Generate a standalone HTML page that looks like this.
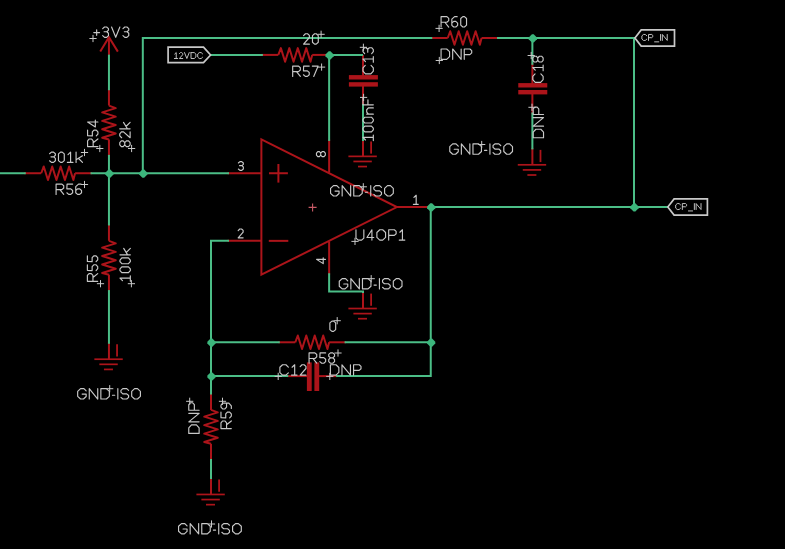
<!DOCTYPE html>
<html><head><meta charset="utf-8"><style>
html,body{margin:0;padding:0;background:#000;width:785px;height:549px;overflow:hidden;font-family:"Liberation Sans",sans-serif;}
svg{display:block;}
</style></head><body>
<svg width="785" height="549" viewBox="0 0 785 549">
<rect width="785" height="549" fill="#000"/>
<line x1="24.28" y1="173.24" x2="41.21" y2="173.24" stroke="#ac141a" stroke-width="2" stroke-linecap="butt"/>
<line x1="75.07" y1="173.24" x2="92.00" y2="173.24" stroke="#ac141a" stroke-width="2" stroke-linecap="butt"/>
<path d="M41.21,173.24 L43.75,166.47 L47.98,180.01 L52.21,166.47 L56.45,180.01 L60.68,166.47 L64.91,180.01 L69.14,166.47 L73.38,180.01 L75.07,173.24" stroke="#ac141a" stroke-width="2" fill="none" stroke-linejoin="round"/>
<line x1="108.95" y1="88.67" x2="108.95" y2="105.59" stroke="#ac141a" stroke-width="2" stroke-linecap="butt"/>
<line x1="108.95" y1="139.46" x2="108.95" y2="156.38" stroke="#ac141a" stroke-width="2" stroke-linecap="butt"/>
<path d="M108.95,105.59 L115.72,108.13 L102.18,112.37 L115.72,116.60 L102.18,120.83 L115.72,125.06 L102.18,129.30 L115.72,133.53 L102.18,137.76 L108.95,139.46" stroke="#ac141a" stroke-width="2" fill="none" stroke-linejoin="round"/>
<line x1="108.95" y1="223.90" x2="108.95" y2="240.83" stroke="#ac141a" stroke-width="2" stroke-linecap="butt"/>
<line x1="108.95" y1="274.69" x2="108.95" y2="291.62" stroke="#ac141a" stroke-width="2" stroke-linecap="butt"/>
<path d="M108.95,240.83 L115.72,243.37 L102.18,247.61 L115.72,251.84 L102.18,256.07 L115.72,260.30 L102.18,264.54 L115.72,268.77 L102.18,273.00 L108.95,274.69" stroke="#ac141a" stroke-width="2" fill="none" stroke-linejoin="round"/>
<line x1="261.40" y1="54.91" x2="278.33" y2="54.91" stroke="#ac141a" stroke-width="2" stroke-linecap="butt"/>
<line x1="312.19" y1="54.91" x2="329.12" y2="54.91" stroke="#ac141a" stroke-width="2" stroke-linecap="butt"/>
<path d="M278.33,54.91 L280.87,48.13 L285.10,61.68 L289.33,48.13 L293.56,61.68 L297.80,48.13 L302.03,61.68 L306.26,48.13 L310.49,61.68 L312.19,54.91" stroke="#ac141a" stroke-width="2" fill="none" stroke-linejoin="round"/>
<line x1="430.77" y1="38.00" x2="447.70" y2="38.00" stroke="#ac141a" stroke-width="2" stroke-linecap="butt"/>
<line x1="481.56" y1="38.00" x2="498.49" y2="38.00" stroke="#ac141a" stroke-width="2" stroke-linecap="butt"/>
<path d="M447.70,38.00 L450.24,31.23 L454.47,44.77 L458.70,31.23 L462.93,44.77 L467.17,31.23 L471.40,44.77 L475.63,31.23 L479.86,44.77 L481.56,38.00" stroke="#ac141a" stroke-width="2" fill="none" stroke-linejoin="round"/>
<line x1="278.33" y1="342.29" x2="295.26" y2="342.29" stroke="#ac141a" stroke-width="2" stroke-linecap="butt"/>
<line x1="329.12" y1="342.29" x2="346.05" y2="342.29" stroke="#ac141a" stroke-width="2" stroke-linecap="butt"/>
<path d="M295.26,342.29 L297.80,335.52 L302.04,349.06 L306.27,335.52 L310.50,349.06 L314.73,335.52 L318.97,349.06 L323.20,335.52 L327.43,349.06 L329.12,342.29" stroke="#ac141a" stroke-width="2" fill="none" stroke-linejoin="round"/>
<line x1="211.00" y1="392.96" x2="211.00" y2="409.89" stroke="#ac141a" stroke-width="2" stroke-linecap="butt"/>
<line x1="211.00" y1="443.75" x2="211.00" y2="460.68" stroke="#ac141a" stroke-width="2" stroke-linecap="butt"/>
<path d="M211.00,409.89 L217.77,412.42 L204.23,416.66 L217.77,420.89 L204.23,425.12 L217.77,429.35 L204.23,433.59 L217.77,437.82 L204.23,442.05 L211.00,443.75" stroke="#ac141a" stroke-width="2" fill="none" stroke-linejoin="round"/>
<line x1="108.95" y1="37.00" x2="108.95" y2="54.91" stroke="#ac141a" stroke-width="2" stroke-linecap="butt"/>
<path d="M100.25,51.60 L108.95,37.20 L117.85,51.60" stroke="#ac141a" stroke-width="2" fill="none" stroke-linejoin="miter"/>
<line x1="363.00" y1="54.91" x2="363.00" y2="77.30" stroke="#ac141a" stroke-width="2" stroke-linecap="butt"/>
<line x1="363.00" y1="84.40" x2="363.00" y2="105.62" stroke="#ac141a" stroke-width="2" stroke-linecap="butt"/>
<rect x="348.90" y="75.10" width="29.00" height="4.40" fill="#ac141a"/>
<rect x="348.90" y="82.20" width="29.00" height="4.40" fill="#ac141a"/>
<line x1="532.38" y1="63.30" x2="532.38" y2="85.30" stroke="#ac141a" stroke-width="2" stroke-linecap="butt"/>
<line x1="532.38" y1="92.20" x2="532.38" y2="114.00" stroke="#ac141a" stroke-width="2" stroke-linecap="butt"/>
<rect x="518.27" y="83.10" width="29.00" height="4.40" fill="#ac141a"/>
<rect x="518.27" y="90.00" width="29.00" height="4.40" fill="#ac141a"/>
<line x1="286.79" y1="376.10" x2="309.30" y2="376.10" stroke="#ac141a" stroke-width="2" stroke-linecap="butt"/>
<line x1="316.80" y1="376.10" x2="337.60" y2="376.10" stroke="#ac141a" stroke-width="2" stroke-linecap="butt"/>
<rect x="306.90" y="362.40" width="4.80" height="28.60" fill="#ac141a"/>
<rect x="314.40" y="362.40" width="4.80" height="28.60" fill="#ac141a"/>
<line x1="108.95" y1="342.29" x2="108.95" y2="359.22" stroke="#ac141a" stroke-width="2" stroke-linecap="butt"/>
<line x1="94.35" y1="359.22" x2="122.75" y2="359.22" stroke="#ac141a" stroke-width="1.7" stroke-linecap="butt"/>
<line x1="99.35" y1="364.32" x2="117.75" y2="364.32" stroke="#ac141a" stroke-width="1.7" stroke-linecap="butt"/>
<line x1="103.95" y1="369.42" x2="112.95" y2="369.42" stroke="#ac141a" stroke-width="1.7" stroke-linecap="butt"/>
<line x1="117.05" y1="344.29" x2="117.05" y2="356.49" stroke="#ac141a" stroke-width="1.8" stroke-linecap="butt"/>
<line x1="363.00" y1="139.43" x2="363.00" y2="156.36" stroke="#ac141a" stroke-width="2" stroke-linecap="butt"/>
<line x1="348.40" y1="156.36" x2="376.81" y2="156.36" stroke="#ac141a" stroke-width="1.7" stroke-linecap="butt"/>
<line x1="353.40" y1="161.46" x2="371.81" y2="161.46" stroke="#ac141a" stroke-width="1.7" stroke-linecap="butt"/>
<line x1="358.00" y1="166.56" x2="367.00" y2="166.56" stroke="#ac141a" stroke-width="1.7" stroke-linecap="butt"/>
<line x1="371.11" y1="141.43" x2="371.11" y2="153.63" stroke="#ac141a" stroke-width="1.8" stroke-linecap="butt"/>
<line x1="532.38" y1="147.88" x2="532.38" y2="164.81" stroke="#ac141a" stroke-width="2" stroke-linecap="butt"/>
<line x1="517.77" y1="164.81" x2="546.17" y2="164.81" stroke="#ac141a" stroke-width="1.7" stroke-linecap="butt"/>
<line x1="522.77" y1="169.91" x2="541.17" y2="169.91" stroke="#ac141a" stroke-width="1.7" stroke-linecap="butt"/>
<line x1="527.38" y1="175.01" x2="536.38" y2="175.01" stroke="#ac141a" stroke-width="1.7" stroke-linecap="butt"/>
<line x1="540.48" y1="149.88" x2="540.48" y2="162.08" stroke="#ac141a" stroke-width="1.8" stroke-linecap="butt"/>
<line x1="363.00" y1="291.58" x2="363.00" y2="308.51" stroke="#ac141a" stroke-width="2" stroke-linecap="butt"/>
<line x1="348.40" y1="308.51" x2="376.81" y2="308.51" stroke="#ac141a" stroke-width="1.7" stroke-linecap="butt"/>
<line x1="353.40" y1="313.61" x2="371.81" y2="313.61" stroke="#ac141a" stroke-width="1.7" stroke-linecap="butt"/>
<line x1="358.00" y1="318.71" x2="367.00" y2="318.71" stroke="#ac141a" stroke-width="1.7" stroke-linecap="butt"/>
<line x1="371.11" y1="293.58" x2="371.11" y2="305.78" stroke="#ac141a" stroke-width="1.8" stroke-linecap="butt"/>
<line x1="211.00" y1="477.53" x2="211.00" y2="494.46" stroke="#ac141a" stroke-width="2" stroke-linecap="butt"/>
<line x1="196.40" y1="494.46" x2="224.80" y2="494.46" stroke="#ac141a" stroke-width="1.7" stroke-linecap="butt"/>
<line x1="201.40" y1="499.56" x2="219.80" y2="499.56" stroke="#ac141a" stroke-width="1.7" stroke-linecap="butt"/>
<line x1="206.00" y1="504.66" x2="215.00" y2="504.66" stroke="#ac141a" stroke-width="1.7" stroke-linecap="butt"/>
<line x1="219.10" y1="479.53" x2="219.10" y2="491.73" stroke="#ac141a" stroke-width="1.8" stroke-linecap="butt"/>
<path d="M261.38,139.43 L396.88,207.05 L261.38,274.67 Z" stroke="#ac141a" stroke-width="2" fill="none" stroke-linejoin="miter"/>
<line x1="227.51" y1="173.24" x2="261.38" y2="173.24" stroke="#ac141a" stroke-width="2" stroke-linecap="butt"/>
<line x1="227.51" y1="240.86" x2="261.38" y2="240.86" stroke="#ac141a" stroke-width="2" stroke-linecap="butt"/>
<line x1="396.88" y1="207.05" x2="430.75" y2="207.05" stroke="#ac141a" stroke-width="2" stroke-linecap="butt"/>
<line x1="329.13" y1="139.43" x2="329.13" y2="172.74" stroke="#ac141a" stroke-width="2" stroke-linecap="butt"/>
<line x1="329.13" y1="274.67" x2="329.13" y2="241.36" stroke="#ac141a" stroke-width="2" stroke-linecap="butt"/>
<line x1="269.00" y1="173.24" x2="287.90" y2="173.24" stroke="#ac141a" stroke-width="2" stroke-linecap="butt"/>
<line x1="278.40" y1="164.00" x2="278.40" y2="182.60" stroke="#ac141a" stroke-width="2" stroke-linecap="butt"/>
<line x1="268.80" y1="240.86" x2="288.30" y2="240.86" stroke="#ac141a" stroke-width="2" stroke-linecap="butt"/>
<path d="M308.60,207.40 L316.60,207.40 M312.60,203.40 L312.60,211.40" stroke="#c85a66" stroke-width="1.1" fill="none"/>
<path d="M0.00,173.24 L25.77,173.24" stroke="#4bbe87" stroke-width="2" fill="none" stroke-linejoin="miter"/>
<path d="M90.51,173.24 L229.01,173.24" stroke="#4bbe87" stroke-width="2" fill="none" stroke-linejoin="miter"/>
<path d="M108.95,54.61 L108.95,90.22" stroke="#4bbe87" stroke-width="2" fill="none" stroke-linejoin="miter"/>
<path d="M108.95,154.84 L108.95,225.46" stroke="#4bbe87" stroke-width="2" fill="none" stroke-linejoin="miter"/>
<path d="M108.95,290.08 L108.95,343.79" stroke="#4bbe87" stroke-width="2" fill="none" stroke-linejoin="miter"/>
<path d="M142.82,173.24 L142.82,38.00 L432.25,38.00" stroke="#4bbe87" stroke-width="2" fill="none" stroke-linejoin="miter"/>
<path d="M497.00,38.00 L634.90,38.00" stroke="#4bbe87" stroke-width="2" fill="none" stroke-linejoin="miter"/>
<path d="M210.50,54.91 L262.88,54.91" stroke="#4bbe87" stroke-width="2" fill="none" stroke-linejoin="miter"/>
<path d="M327.63,54.91 L363.00,54.91" stroke="#4bbe87" stroke-width="2" fill="none" stroke-linejoin="miter"/>
<path d="M329.13,54.91 L329.13,140.93" stroke="#4bbe87" stroke-width="2" fill="none" stroke-linejoin="miter"/>
<path d="M363.00,104.12 L363.00,140.93" stroke="#4bbe87" stroke-width="2" fill="none" stroke-linejoin="miter"/>
<path d="M532.38,38.00 L532.38,64.80" stroke="#4bbe87" stroke-width="2" fill="none" stroke-linejoin="miter"/>
<path d="M532.38,112.50 L532.38,149.38" stroke="#4bbe87" stroke-width="2" fill="none" stroke-linejoin="miter"/>
<path d="M634.00,37.00 L634.00,207.05" stroke="#4bbe87" stroke-width="2" fill="none" stroke-linejoin="miter"/>
<path d="M429.25,207.05 L667.87,207.05" stroke="#4bbe87" stroke-width="2" fill="none" stroke-linejoin="miter"/>
<path d="M430.75,207.05 L430.75,376.10 L336.10,376.10" stroke="#4bbe87" stroke-width="2" fill="none" stroke-linejoin="miter"/>
<path d="M344.57,342.29 L430.75,342.29" stroke="#4bbe87" stroke-width="2" fill="none" stroke-linejoin="miter"/>
<path d="M229.01,240.86 L211.00,240.86 L211.00,394.50" stroke="#4bbe87" stroke-width="2" fill="none" stroke-linejoin="miter"/>
<path d="M211.00,342.29 L279.82,342.29" stroke="#4bbe87" stroke-width="2" fill="none" stroke-linejoin="miter"/>
<path d="M211.00,376.10 L288.29,376.10" stroke="#4bbe87" stroke-width="2" fill="none" stroke-linejoin="miter"/>
<path d="M211.00,459.12 L211.00,479.03" stroke="#4bbe87" stroke-width="2" fill="none" stroke-linejoin="miter"/>
<path d="M329.13,273.17 L329.13,291.58 L363.00,291.58 L363.00,293.08" stroke="#4bbe87" stroke-width="2" fill="none" stroke-linejoin="miter"/>
<path d="M113.50,172.74 L113.50,174.54 L110.30,177.74 L108.50,177.74 L105.30,174.54 L105.30,172.74 L108.50,169.54 L110.30,169.54 Z" stroke="#3cb67c" stroke-width="0" fill="#3cb67c" stroke-linejoin="miter"/>
<path d="M147.37,172.74 L147.37,174.54 L144.17,177.74 L142.37,177.74 L139.17,174.54 L139.17,172.74 L142.37,169.54 L144.17,169.54 Z" stroke="#3cb67c" stroke-width="0" fill="#3cb67c" stroke-linejoin="miter"/>
<path d="M333.68,54.41 L333.68,56.20 L330.48,59.41 L328.68,59.41 L325.48,56.20 L325.48,54.41 L328.68,51.20 L330.48,51.20 Z" stroke="#3cb67c" stroke-width="0" fill="#3cb67c" stroke-linejoin="miter"/>
<path d="M536.93,37.50 L536.93,39.30 L533.73,42.50 L531.93,42.50 L528.73,39.30 L528.73,37.50 L531.93,34.30 L533.73,34.30 Z" stroke="#3cb67c" stroke-width="0" fill="#3cb67c" stroke-linejoin="miter"/>
<path d="M638.55,206.55 L638.55,208.35 L635.35,211.55 L633.55,211.55 L630.35,208.35 L630.35,206.55 L633.55,203.35 L635.35,203.35 Z" stroke="#3cb67c" stroke-width="0" fill="#3cb67c" stroke-linejoin="miter"/>
<path d="M435.30,206.55 L435.30,208.35 L432.10,211.55 L430.30,211.55 L427.10,208.35 L427.10,206.55 L430.30,203.35 L432.10,203.35 Z" stroke="#3cb67c" stroke-width="0" fill="#3cb67c" stroke-linejoin="miter"/>
<path d="M435.30,341.79 L435.30,343.59 L432.10,346.79 L430.30,346.79 L427.10,343.59 L427.10,341.79 L430.30,338.59 L432.10,338.59 Z" stroke="#3cb67c" stroke-width="0" fill="#3cb67c" stroke-linejoin="miter"/>
<path d="M215.55,341.79 L215.55,343.59 L212.35,346.79 L210.55,346.79 L207.35,343.59 L207.35,341.79 L210.55,338.59 L212.35,338.59 Z" stroke="#3cb67c" stroke-width="0" fill="#3cb67c" stroke-linejoin="miter"/>
<path d="M215.55,375.60 L215.55,377.40 L212.35,380.60 L210.55,380.60 L207.35,377.40 L207.35,375.60 L210.55,372.40 L212.35,372.40 Z" stroke="#3cb67c" stroke-width="0" fill="#3cb67c" stroke-linejoin="miter"/>
<path d="M168.10,47.10 L203.50,47.10 L210.60,55.00 L203.50,62.70 L168.10,62.70 Z" stroke="#c8c8c8" stroke-width="1.7" fill="none" stroke-linejoin="miter"/>
<path d="M634.90,38.00 L641.20,29.90 L674.50,29.90 L674.50,46.10 L641.20,46.10 Z" stroke="#c8c8c8" stroke-width="1.7" fill="none" stroke-linejoin="miter"/>
<path d="M667.80,207.00 L674.10,198.90 L707.40,198.90 L707.40,215.10 L674.10,215.10 Z" stroke="#c8c8c8" stroke-width="1.7" fill="none" stroke-linejoin="miter"/>
<path d="M93.78,32.56 L99.57,32.56 M96.67,29.77 L96.67,35.36 M102.68,28.63 L104.53,26.97 L106.62,26.97 L108.47,28.63 L108.47,30.18 L106.85,31.74 L104.07,31.74 M106.85,31.74 L108.47,33.29 L108.47,35.67 L106.62,37.32 L104.53,37.32 L102.68,35.67 M111.58,26.97 L115.72,37.32 L119.86,26.97 M122.96,28.63 L124.82,26.97 L126.90,26.97 L128.76,28.63 L128.76,30.18 L127.14,31.74 L124.35,31.74 M127.14,31.74 L128.76,33.29 L128.76,35.67 L126.90,37.32 L124.82,37.32 L122.96,35.67" stroke="#c8c8c8" stroke-width="1.15" fill="none" stroke-linejoin="round" stroke-linecap="round"/>
<path d="M89.40,38.50 L96.60,38.50 M93.00,34.90 L93.00,42.10" stroke="#c8c8c8" stroke-width="1.0" fill="none"/>
<path d="M49.58,153.73 L51.43,152.07 L53.52,152.07 L55.37,153.73 L55.37,155.28 L53.75,156.84 L50.97,156.84 M53.75,156.84 L55.37,158.39 L55.37,160.77 L53.52,162.42 L51.43,162.42 L49.58,160.77 M60.56,152.07 L62.19,152.07 L64.27,153.94 L64.27,160.56 L62.19,162.42 L60.56,162.42 L58.48,160.56 L58.48,153.94 L60.56,152.07 M68.00,154.56 L70.59,152.07 L70.59,162.42 M67.38,162.42 L72.97,162.42 M76.07,152.07 L76.07,162.42 M82.49,155.80 L76.07,159.73 M78.36,158.28 L82.49,162.42" stroke="#c8c8c8" stroke-width="1.15" fill="none" stroke-linejoin="round" stroke-linecap="round"/>
<path d="M80.90,152.50 L88.10,152.50 M84.50,148.90 L84.50,156.10" stroke="#c8c8c8" stroke-width="1.0" fill="none"/>
<path d="M56.08,194.42 L56.08,184.07 L61.93,184.07 L63.73,185.73 L63.73,188.01 L61.93,189.66 L56.08,189.66 M59.90,189.66 L63.73,194.42 M72.64,184.07 L67.07,184.07 L66.84,188.84 L70.78,188.84 L72.64,190.49 L72.64,192.77 L70.78,194.42 L68.69,194.42 L66.84,192.77 M81.07,184.07 L78.52,184.07 L75.74,186.56 L75.74,192.77 L77.59,194.42 L79.68,194.42 L81.54,192.77 L81.54,190.49 L79.68,188.84 L77.59,188.84 L75.74,190.49" stroke="#c8c8c8" stroke-width="1.15" fill="none" stroke-linejoin="round" stroke-linecap="round"/>
<path d="M80.90,184.50 L88.10,184.50 M84.50,180.90 L84.50,188.10" stroke="#c8c8c8" stroke-width="1.0" fill="none"/>
<path d="M86.16,390.95 L83.93,388.68 L80.58,388.68 L77.67,391.37 L77.67,396.33 L80.58,399.03 L83.48,399.03 L86.16,396.54 L86.16,394.06 L82.14,394.06 M89.27,399.03 L89.27,388.68 L97.75,399.03 L97.75,388.68 M100.86,388.68 L100.86,399.03 L106.44,399.03 L109.35,396.33 L109.35,391.37 L106.44,388.68 L100.86,388.68 M112.45,395.20 L114.73,395.20 M117.83,388.68 L117.83,399.03 M128.60,390.33 L126.74,388.68 L122.79,388.68 L120.94,390.33 L120.94,392.19 L122.79,393.85 L126.74,393.85 L128.60,395.51 L128.60,397.37 L126.74,399.03 L122.79,399.03 L120.94,397.37 M134.60,388.68 L137.50,388.68 L140.40,391.37 L140.40,396.33 L137.50,399.03 L134.60,399.03 L131.70,396.33 L131.70,391.37 L134.60,388.68" stroke="#c8c8c8" stroke-width="1.15" fill="none" stroke-linejoin="round" stroke-linecap="round"/>
<path d="M106.10,388.70 L113.30,388.70 M109.70,385.10 L109.70,392.30" stroke="#c8c8c8" stroke-width="1.0" fill="none"/>
<path d="M458.26,146.15 L456.03,143.88 L452.68,143.88 L449.77,146.57 L449.77,151.53 L452.68,154.22 L455.58,154.22 L458.26,151.74 L458.26,149.26 L454.24,149.26 M461.37,154.22 L461.37,143.88 L469.85,154.22 L469.85,143.88 M472.96,143.88 L472.96,154.22 L478.54,154.22 L481.45,151.53 L481.45,146.57 L478.54,143.88 L472.96,143.88 M484.55,150.40 L486.83,150.40 M489.93,143.88 L489.93,154.22 M500.70,145.53 L498.84,143.88 L494.89,143.88 L493.04,145.53 L493.04,147.39 L494.89,149.05 L498.84,149.05 L500.70,150.71 L500.70,152.57 L498.84,154.22 L494.89,154.22 L493.04,152.57 M506.70,143.88 L509.60,143.88 L512.50,146.57 L512.50,151.53 L509.60,154.22 L506.70,154.22 L503.80,151.53 L503.80,146.57 L506.70,143.88" stroke="#c8c8c8" stroke-width="1.15" fill="none" stroke-linejoin="round" stroke-linecap="round"/>
<path d="M478.10,144.50 L485.30,144.50 M481.70,140.90 L481.70,148.10" stroke="#c8c8c8" stroke-width="1.0" fill="none"/>
<path d="M339.06,187.95 L336.83,185.67 L333.48,185.67 L330.57,188.37 L330.57,193.33 L333.48,196.02 L336.38,196.02 L339.06,193.54 L339.06,191.06 L335.04,191.06 M342.17,196.02 L342.17,185.67 L350.65,196.02 L350.65,185.67 M353.76,185.67 L353.76,196.02 L359.34,196.02 L362.25,193.33 L362.25,188.37 L359.34,185.67 L353.76,185.67 M365.35,192.20 L367.63,192.20 M370.73,185.67 L370.73,196.02 M381.50,187.33 L379.64,185.67 L375.69,185.67 L373.84,187.33 L373.84,189.19 L375.69,190.85 L379.64,190.85 L381.50,192.51 L381.50,194.37 L379.64,196.02 L375.69,196.02 L373.84,194.37 M387.50,185.67 L390.40,185.67 L393.30,188.37 L393.30,193.33 L390.40,196.02 L387.50,196.02 L384.60,193.33 L384.60,188.37 L387.50,185.67" stroke="#c8c8c8" stroke-width="1.15" fill="none" stroke-linejoin="round" stroke-linecap="round"/>
<path d="M359.70,186.80 L366.90,186.80 M363.30,183.20 L363.30,190.40" stroke="#c8c8c8" stroke-width="1.0" fill="none"/>
<path d="M347.76,280.85 L345.53,278.57 L342.18,278.57 L339.27,281.27 L339.27,286.23 L342.18,288.93 L345.08,288.93 L347.76,286.44 L347.76,283.96 L343.74,283.96 M350.87,288.93 L350.87,278.57 L359.35,288.93 L359.35,278.57 M362.46,278.57 L362.46,288.93 L368.04,288.93 L370.95,286.23 L370.95,281.27 L368.04,278.57 L362.46,278.57 M374.05,285.10 L376.33,285.10 M379.43,278.57 L379.43,288.93 M390.20,280.23 L388.34,278.57 L384.39,278.57 L382.54,280.23 L382.54,282.09 L384.39,283.75 L388.34,283.75 L390.20,285.41 L390.20,287.27 L388.34,288.93 L384.39,288.93 L382.54,287.27 M396.20,278.57 L399.10,278.57 L402.00,281.27 L402.00,286.23 L399.10,288.93 L396.20,288.93 L393.30,286.23 L393.30,281.27 L396.20,278.57" stroke="#c8c8c8" stroke-width="1.15" fill="none" stroke-linejoin="round" stroke-linecap="round"/>
<path d="M367.60,278.70 L374.80,278.70 M371.20,275.10 L371.20,282.30" stroke="#c8c8c8" stroke-width="1.0" fill="none"/>
<path d="M187.06,525.85 L184.83,523.58 L181.48,523.58 L178.57,526.27 L178.57,531.23 L181.48,533.93 L184.38,533.93 L187.06,531.44 L187.06,528.96 L183.04,528.96 M190.17,533.93 L190.17,523.58 L198.65,533.93 L198.65,523.58 M201.76,523.58 L201.76,533.93 L207.34,533.93 L210.25,531.23 L210.25,526.27 L207.34,523.58 L201.76,523.58 M213.35,530.10 L215.63,530.10 M218.73,523.58 L218.73,533.93 M229.50,525.23 L227.64,523.58 L223.69,523.58 L221.84,525.23 L221.84,527.09 L223.69,528.75 L227.64,528.75 L229.50,530.41 L229.50,532.27 L227.64,533.93 L223.69,533.93 L221.84,532.27 M235.50,523.58 L238.40,523.58 L241.30,526.27 L241.30,531.23 L238.40,533.93 L235.50,533.93 L232.60,531.23 L232.60,526.27 L235.50,523.58" stroke="#c8c8c8" stroke-width="1.15" fill="none" stroke-linejoin="round" stroke-linecap="round"/>
<path d="M207.90,524.00 L215.10,524.00 M211.50,520.40 L211.50,527.60" stroke="#c8c8c8" stroke-width="1.0" fill="none"/>
<path d="M441.07,27.02 L441.07,16.68 L446.93,16.68 L448.73,18.33 L448.73,20.61 L446.93,22.26 L441.07,22.26 M444.90,22.26 L448.73,27.02 M457.17,16.68 L454.62,16.68 L451.84,19.16 L451.84,25.37 L453.69,27.02 L455.78,27.02 L457.63,25.37 L457.63,23.09 L455.78,21.44 L453.69,21.44 L451.84,23.09 M462.83,16.68 L464.45,16.68 L466.54,18.54 L466.54,25.16 L464.45,27.02 L462.83,27.02 L460.74,25.16 L460.74,18.54 L462.83,16.68" stroke="#c8c8c8" stroke-width="1.15" fill="none" stroke-linejoin="round" stroke-linecap="round"/>
<path d="M435.50,28.40 L442.70,28.40 M439.10,24.80 L439.10,32.00" stroke="#c8c8c8" stroke-width="1.0" fill="none"/>
<path d="M441.07,48.98 L441.07,59.33 L446.66,59.33 L449.56,56.63 L449.56,51.67 L446.66,48.98 L441.07,48.98 M452.67,59.33 L452.67,48.98 L461.15,59.33 L461.15,48.98 M464.26,59.33 L464.26,48.98 L469.90,48.98 L471.71,50.63 L471.71,52.91 L469.90,54.56 L464.26,54.56" stroke="#c8c8c8" stroke-width="1.15" fill="none" stroke-linejoin="round" stroke-linecap="round"/>
<path d="M435.70,60.50 L442.90,60.50 M439.30,56.90 L439.30,64.10" stroke="#c8c8c8" stroke-width="1.0" fill="none"/>
<path d="M303.57,35.64 L305.43,33.78 L307.52,33.78 L309.37,35.43 L309.37,37.50 L303.57,44.13 L309.37,44.13 M314.56,33.78 L316.19,33.78 L318.27,35.64 L318.27,42.26 L316.19,44.13 L314.56,44.13 L312.48,42.26 L312.48,35.64 L314.56,33.78" stroke="#c8c8c8" stroke-width="1.15" fill="none" stroke-linejoin="round" stroke-linecap="round"/>
<path d="M317.50,34.30 L324.70,34.30 M321.10,30.70 L321.10,37.90" stroke="#c8c8c8" stroke-width="1.0" fill="none"/>
<path d="M292.68,76.42 L292.68,66.08 L298.53,66.08 L300.33,67.73 L300.33,70.01 L298.53,71.66 L292.68,71.66 M296.50,71.66 L300.33,76.42 M309.24,66.08 L303.67,66.08 L303.44,70.84 L307.38,70.84 L309.24,72.49 L309.24,74.77 L307.38,76.42 L305.29,76.42 L303.44,74.77 M312.34,66.08 L318.14,66.08 L313.73,76.42" stroke="#c8c8c8" stroke-width="1.15" fill="none" stroke-linejoin="round" stroke-linecap="round"/>
<path d="M318.00,67.10 L325.20,67.10 M321.60,63.50 L321.60,70.70" stroke="#c8c8c8" stroke-width="1.0" fill="none"/>
<path d="M355.97,229.77 L355.97,238.05 L358.22,240.12 L361.59,240.12 L363.84,238.05 L363.84,229.77 M371.91,240.12 L371.91,229.77 L366.95,237.54 L373.78,237.54 M379.78,229.77 L382.68,229.77 L385.58,232.47 L385.58,237.43 L382.68,240.12 L379.78,240.12 L376.88,237.43 L376.88,232.47 L379.78,229.77 M388.68,240.12 L388.68,229.77 L394.33,229.77 L396.13,231.43 L396.13,233.71 L394.33,235.36 L388.68,235.36 M399.86,232.26 L402.45,229.77 L402.45,240.12 M399.24,240.12 L404.83,240.12" stroke="#c8c8c8" stroke-width="1.15" fill="none" stroke-linejoin="round" stroke-linecap="round"/>
<path d="M351.40,241.40 L358.60,241.40 M355.00,237.80 L355.00,245.00" stroke="#c8c8c8" stroke-width="1.0" fill="none"/>
<path d="M331.96,321.07 L333.58,321.07 L335.67,322.94 L335.67,329.56 L333.58,331.43 L331.96,331.43 L329.88,329.56 L329.88,322.94 L331.96,321.07" stroke="#c8c8c8" stroke-width="1.15" fill="none" stroke-linejoin="round" stroke-linecap="round"/>
<path d="M333.60,320.70 L340.80,320.70 M337.20,317.10 L337.20,324.30" stroke="#c8c8c8" stroke-width="1.0" fill="none"/>
<path d="M309.07,363.23 L309.07,352.88 L314.93,352.88 L316.73,354.53 L316.73,356.81 L314.93,358.46 L309.07,358.46 M312.90,358.46 L316.73,363.23 M325.63,352.88 L320.07,352.88 L319.84,357.64 L323.78,357.64 L325.63,359.29 L325.63,361.57 L323.78,363.23 L321.69,363.23 L319.84,361.57 M330.48,357.84 L328.74,356.29 L328.74,354.43 L330.48,352.88 L332.80,352.88 L334.54,354.43 L334.54,356.29 L332.80,357.84 L330.48,357.84 L328.74,359.50 L328.74,361.67 L330.48,363.23 L332.80,363.23 L334.54,361.67 L334.54,359.50 L332.80,357.84" stroke="#c8c8c8" stroke-width="1.15" fill="none" stroke-linejoin="round" stroke-linecap="round"/>
<path d="M334.40,353.00 L341.60,353.00 M338.00,349.40 L338.00,356.60" stroke="#c8c8c8" stroke-width="1.0" fill="none"/>
<path d="M288.36,367.05 L285.91,364.77 L282.56,364.77 L279.88,367.26 L279.88,372.64 L282.56,375.12 L285.91,375.12 L288.36,372.85 M292.09,367.26 L294.68,364.77 L294.68,375.12 M291.47,375.12 L297.06,375.12 M300.16,366.64 L302.02,364.77 L304.10,364.77 L305.96,366.43 L305.96,368.50 L300.16,375.12 L305.96,375.12" stroke="#c8c8c8" stroke-width="1.15" fill="none" stroke-linejoin="round" stroke-linecap="round"/>
<path d="M274.60,376.40 L281.80,376.40 M278.20,372.80 L278.20,380.00" stroke="#c8c8c8" stroke-width="1.0" fill="none"/>
<path d="M330.38,364.77 L330.38,375.12 L335.96,375.12 L338.86,372.43 L338.86,367.47 L335.96,364.77 L330.38,364.77 M341.97,375.12 L341.97,364.77 L350.45,375.12 L350.45,364.77 M353.56,375.12 L353.56,364.77 L359.20,364.77 L361.01,366.43 L361.01,368.71 L359.20,370.36 L353.56,370.36" stroke="#c8c8c8" stroke-width="1.15" fill="none" stroke-linejoin="round" stroke-linecap="round"/>
<path d="M326.20,376.40 L333.40,376.40 M329.80,372.80 L329.80,380.00" stroke="#c8c8c8" stroke-width="1.0" fill="none"/>
<path d="M238.38,162.99 L239.96,161.57 L241.75,161.57 L243.33,162.99 L243.33,164.32 L241.94,165.65 L239.56,165.65 M241.94,165.65 L243.33,166.97 L243.33,169.01 L241.75,170.42 L239.96,170.42 L238.38,169.01" stroke="#c8c8c8" stroke-width="1.15" fill="none" stroke-linejoin="round" stroke-linecap="round"/>
<path d="M238.17,230.57 L239.76,228.97 L241.55,228.97 L243.13,230.39 L243.13,232.16 L238.17,237.82 L243.13,237.82" stroke="#c8c8c8" stroke-width="1.15" fill="none" stroke-linejoin="round" stroke-linecap="round"/>
<path d="M413.92,197.45 L416.18,195.27 L416.18,204.32 M413.38,204.32 L418.26,204.32" stroke="#c8c8c8" stroke-width="1.15" fill="none" stroke-linejoin="round" stroke-linecap="round"/>
<path d="M174.73,54.00 L176.22,52.58 L176.22,58.53 M174.38,58.53 L177.59,58.53 M179.37,53.65 L180.44,52.58 L181.64,52.58 L182.71,53.53 L182.71,54.72 L179.37,58.53 L182.71,58.53 M184.49,52.58 L186.87,58.53 L189.25,52.58 M191.03,52.58 L191.03,58.53 L194.24,58.53 L195.91,56.98 L195.91,54.12 L194.24,52.58 L191.03,52.58 M202.58,53.88 L201.17,52.58 L199.24,52.58 L197.70,54.00 L197.70,57.10 L199.24,58.53 L201.17,58.53 L202.58,57.22" stroke="#c8c8c8" stroke-width="0.95" fill="none" stroke-linejoin="round" stroke-linecap="round"/>
<path d="M646.75,35.78 L645.34,34.48 L643.42,34.48 L641.88,35.90 L641.88,39.00 L643.42,40.42 L645.34,40.42 L646.75,39.12 M648.54,40.42 L648.54,34.48 L651.78,34.48 L652.82,35.43 L652.82,36.74 L651.78,37.69 L648.54,37.69 M654.61,41.85 L658.77,41.85 M660.56,34.48 L660.56,40.42 M662.34,40.42 L662.34,34.48 L667.22,40.42 L667.22,34.48" stroke="#c8c8c8" stroke-width="0.95" fill="none" stroke-linejoin="round" stroke-linecap="round"/>
<path d="M680.55,204.88 L679.14,203.57 L677.22,203.57 L675.68,205.00 L675.68,208.10 L677.22,209.52 L679.14,209.52 L680.55,208.22 M682.34,209.52 L682.34,203.57 L685.58,203.57 L686.62,204.53 L686.62,205.84 L685.58,206.79 L682.34,206.79 M688.41,210.95 L692.57,210.95 M694.36,203.57 L694.36,209.52 M696.14,209.52 L696.14,203.57 L701.02,209.52 L701.02,203.57" stroke="#c8c8c8" stroke-width="0.95" fill="none" stroke-linejoin="round" stroke-linecap="round"/>
<path d="M97.92,146.62 L87.58,146.62 L87.58,140.77 L89.23,138.97 L91.51,138.97 L93.16,140.77 L93.16,146.62 M93.16,142.80 L97.92,138.97 M87.58,130.06 L87.58,135.63 L92.34,135.86 L92.34,131.92 L93.99,130.06 L96.27,130.06 L97.92,131.92 L97.92,134.01 L96.27,135.86 M97.92,121.99 L87.58,121.99 L95.34,126.96 L95.34,120.13" stroke="#c8c8c8" stroke-width="1.15" fill="none" stroke-linejoin="round" stroke-linecap="round"/>
<path d="M96.20,148.50 L103.40,148.50 M99.80,144.90 L99.80,152.10" stroke="#c8c8c8" stroke-width="1.0" fill="none"/>
<path d="M124.74,144.89 L123.19,146.62 L121.33,146.62 L119.78,144.89 L119.78,142.57 L121.33,140.83 L123.19,140.83 L124.74,142.57 L124.74,144.89 L126.40,146.62 L128.57,146.62 L130.12,144.89 L130.12,142.57 L128.57,140.83 L126.40,140.83 L124.74,142.57 M121.64,137.72 L119.78,135.87 L119.78,133.78 L121.43,131.93 L123.50,131.93 L130.12,137.72 L130.12,131.93 M119.78,128.82 L130.12,128.82 M123.50,122.41 L127.43,128.82 M125.98,126.53 L130.12,122.41" stroke="#c8c8c8" stroke-width="1.15" fill="none" stroke-linejoin="round" stroke-linecap="round"/>
<path d="M128.00,148.50 L135.20,148.50 M131.60,144.90 L131.60,152.10" stroke="#c8c8c8" stroke-width="1.0" fill="none"/>
<path d="M97.72,281.32 L87.38,281.32 L87.38,275.47 L89.03,273.67 L91.31,273.67 L92.96,275.47 L92.96,281.32 M92.96,277.50 L97.72,273.67 M87.38,264.76 L87.38,270.33 L92.14,270.56 L92.14,266.62 L93.79,264.76 L96.07,264.76 L97.72,266.62 L97.72,268.71 L96.07,270.56 M87.38,255.86 L87.38,261.43 L92.14,261.66 L92.14,257.72 L93.79,255.86 L96.07,255.86 L97.72,257.72 L97.72,259.81 L96.07,261.66" stroke="#c8c8c8" stroke-width="1.15" fill="none" stroke-linejoin="round" stroke-linecap="round"/>
<path d="M96.90,283.70 L104.10,283.70 M100.50,280.10 L100.50,287.30" stroke="#c8c8c8" stroke-width="1.0" fill="none"/>
<path d="M122.46,280.70 L119.98,278.12 L130.33,278.12 M130.33,281.32 L130.33,275.74 M119.98,270.54 L119.98,268.92 L121.84,266.83 L128.46,266.83 L130.33,268.92 L130.33,270.54 L128.46,272.63 L121.84,272.63 L119.98,270.54 M119.98,261.64 L119.98,260.02 L121.84,257.93 L128.46,257.93 L130.33,260.02 L130.33,261.64 L128.46,263.73 L121.84,263.73 L119.98,261.64 M119.98,254.83 L130.33,254.83 M123.70,248.41 L127.63,254.83 M126.19,252.54 L130.33,248.41" stroke="#c8c8c8" stroke-width="1.15" fill="none" stroke-linejoin="round" stroke-linecap="round"/>
<path d="M127.80,283.70 L135.00,283.70 M131.40,280.10 L131.40,287.30" stroke="#c8c8c8" stroke-width="1.0" fill="none"/>
<path d="M365.25,65.34 L362.97,67.79 L362.97,71.14 L365.46,73.83 L370.84,73.83 L373.32,71.14 L373.32,67.79 L371.05,65.34 M365.46,61.61 L362.97,59.02 L373.32,59.02 M373.32,62.23 L373.32,56.64 M364.63,53.54 L362.97,51.68 L362.97,49.60 L364.63,47.74 L366.18,47.74 L367.74,49.37 L367.74,52.15 M367.74,49.37 L369.29,47.74 L371.67,47.74 L373.32,49.60 L373.32,51.68 L371.67,53.54" stroke="#c8c8c8" stroke-width="1.15" fill="none" stroke-linejoin="round" stroke-linecap="round"/>
<path d="M359.80,47.30 L367.00,47.30 M363.40,43.70 L363.40,50.90" stroke="#c8c8c8" stroke-width="1.0" fill="none"/>
<path d="M365.46,140.00 L362.97,137.42 L373.32,137.42 M373.32,140.62 L373.32,135.04 M362.97,129.84 L362.97,128.22 L364.84,126.14 L371.46,126.14 L373.32,128.22 L373.32,129.84 L371.46,131.93 L364.84,131.93 L362.97,129.84 M362.97,120.94 L362.97,119.32 L364.84,117.23 L371.46,117.23 L373.32,119.32 L373.32,120.94 L371.46,123.03 L364.84,123.03 L362.97,120.94 M366.70,114.13 L373.32,114.13 M368.56,114.13 L366.70,112.06 L366.70,109.76 L368.36,107.92 L373.32,107.92 M362.97,97.98 L362.97,104.81 L373.32,104.81 M367.94,104.81 L367.94,99.80" stroke="#c8c8c8" stroke-width="1.15" fill="none" stroke-linejoin="round" stroke-linecap="round"/>
<path d="M360.00,97.40 L367.20,97.40 M363.60,93.80 L363.60,101.00" stroke="#c8c8c8" stroke-width="1.0" fill="none"/>
<path d="M535.05,73.84 L532.78,76.29 L532.78,79.64 L535.26,82.33 L540.64,82.33 L543.13,79.64 L543.13,76.29 L540.85,73.84 M535.26,70.11 L532.78,67.52 L543.13,67.52 M543.13,70.73 L543.13,65.14 M537.74,60.30 L536.19,62.04 L534.33,62.04 L532.78,60.30 L532.78,57.98 L534.33,56.24 L536.19,56.24 L537.74,57.98 L537.74,60.30 L539.40,62.04 L541.57,62.04 L543.13,60.30 L543.13,57.98 L541.57,56.24 L539.40,56.24 L537.74,57.98" stroke="#c8c8c8" stroke-width="1.15" fill="none" stroke-linejoin="round" stroke-linecap="round"/>
<path d="M527.60,55.50 L534.80,55.50 M531.20,51.90 L531.20,59.10" stroke="#c8c8c8" stroke-width="1.0" fill="none"/>
<path d="M533.18,137.73 L543.53,137.73 L543.53,132.14 L540.83,129.24 L535.87,129.24 L533.18,132.14 L533.18,137.73 M543.53,126.13 L533.18,126.13 L543.53,117.65 L533.18,117.65 M543.53,114.54 L533.18,114.54 L533.18,108.90 L534.83,107.09 L537.11,107.09 L538.76,108.90 L538.76,114.54" stroke="#c8c8c8" stroke-width="1.15" fill="none" stroke-linejoin="round" stroke-linecap="round"/>
<path d="M528.40,107.30 L535.60,107.30 M532.00,103.70 L532.00,110.90" stroke="#c8c8c8" stroke-width="1.0" fill="none"/>
<path d="M188.77,433.43 L199.12,433.43 L199.12,427.84 L196.43,424.94 L191.47,424.94 L188.77,427.84 L188.77,433.43 M199.12,421.83 L188.77,421.83 L199.12,413.35 L188.77,413.35 M199.12,410.24 L188.77,410.24 L188.77,404.60 L190.43,402.79 L192.71,402.79 L194.36,404.60 L194.36,410.24" stroke="#c8c8c8" stroke-width="1.15" fill="none" stroke-linejoin="round" stroke-linecap="round"/>
<path d="M186.10,401.30 L193.30,401.30 M189.70,397.70 L189.70,404.90" stroke="#c8c8c8" stroke-width="1.0" fill="none"/>
<path d="M231.32,428.62 L220.97,428.62 L220.97,422.77 L222.63,420.97 L224.91,420.97 L226.56,422.77 L226.56,428.62 M226.56,424.80 L231.32,420.97 M220.97,412.06 L220.97,417.63 L225.74,417.86 L225.74,413.92 L227.39,412.06 L229.67,412.06 L231.32,413.92 L231.32,416.01 L229.67,417.86 M231.32,408.50 L231.32,405.95 L228.84,403.16 L222.63,403.16 L220.97,405.02 L220.97,407.11 L222.63,408.96 L224.91,408.96 L226.56,407.11 L226.56,403.16" stroke="#c8c8c8" stroke-width="1.15" fill="none" stroke-linejoin="round" stroke-linecap="round"/>
<path d="M218.90,401.30 L226.10,401.30 M222.50,397.70 L222.50,404.90" stroke="#c8c8c8" stroke-width="1.0" fill="none"/>
<path d="M320.72,155.14 L319.40,156.62 L317.80,156.62 L316.47,155.14 L316.47,153.16 L317.80,151.67 L319.40,151.67 L320.72,153.16 L320.72,155.14 L322.14,156.62 L324.00,156.62 L325.32,155.14 L325.32,153.16 L324.00,151.67 L322.14,151.67 L320.72,153.16" stroke="#c8c8c8" stroke-width="1.15" fill="none" stroke-linejoin="round" stroke-linecap="round"/>
<path d="M325.43,259.38 L316.57,259.38 L323.21,263.62 L323.21,257.78" stroke="#c8c8c8" stroke-width="1.15" fill="none" stroke-linejoin="round" stroke-linecap="round"/>
</svg>
</body></html>
